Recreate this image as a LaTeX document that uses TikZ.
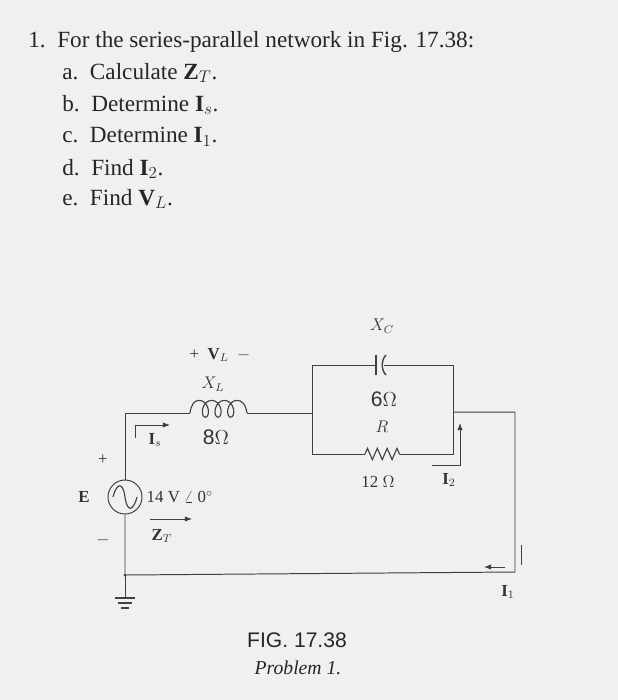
\documentclass[tikz,border=0pt]{standalone}
\usepackage{fontspec}
\setmainfont{Liberation Serif}
\setsansfont{Liberation Sans}
\usetikzlibrary{arrows.meta,decorations.pathmorphing}
\begin{document}
\begin{tikzpicture}[x=0.025cm,y=-0.025cm,
  wire/.style={draw=black!75,line width=0.7pt},
  lbl/.style={font=\fontsize{12}{14}\selectfont,text=black!80,inner sep=1pt},
  qtext/.style={font=\fontsize{16.5}{20}\selectfont,anchor=west,text=black!85,inner sep=0pt},
  curarrow/.style={draw=black!75,line width=0.6pt,-{Latex[length=5pt]}}]
\fill[gray!12] (0,0) rectangle (618,700);
\useasboundingbox (0,0) rectangle (618,700);
% question text
\node[qtext] (q0) at (28,42) {1.\ \ For the series-parallel network in Fig. 17.38:};
\node[qtext] (qa) at (62,73) {a.\ \ Calculate $\mathbf{Z}_T$.};
\node[qtext] (qb) at (62,105) {b.\ \ Determine $\mathbf{I}_s$.};
\node[qtext] (qc) at (62,137) {c.\ \ Determine $\mathbf{I}_1$.};
\node[qtext] (qd) at (62,169) {d.\ \ Find $\mathbf{I}_2$.};
\node[qtext] (qe) at (62,199) {e.\ \ Find $\mathbf{V}_L$.};
% coordinates
\coordinate (tl) at (125,413);
\coordinate (lA) at (190,413);
\coordinate (lB) at (247,413);
\coordinate (bl) at (312,413);
\coordinate (btl) at (312,365);
\coordinate (bbl) at (312,454);
\coordinate (btr) at (453,365);
\coordinate (bbr) at (453,454);
\coordinate (br) at (453,412);
\coordinate (rt) at (515,412);
\coordinate (rb) at (515,572);
\coordinate (gnd) at (125,575);
\coordinate (cA) at (376,365);
\coordinate (cB) at (384,365);
\coordinate (rA) at (365,454);
\coordinate (rB) at (400,454);
% source
\node[circle,draw=black!75,line width=0.7pt,minimum size=0.85cm,inner sep=0pt] (src) at (125,497) {};
\draw[black!75,line width=0.8pt] (113,497) .. controls (117,482) and (123,482) .. (125,497) .. controls (127,512) and (133,512) .. (137,497);
% wires
\path[wire] (src.north) -- (tl) -- (lA);
\draw[black!75,line width=0.8pt,decorate,decoration={coil,aspect=0.7,segment length=9pt,amplitude=6pt,raise=3pt}] (lA) -- (lB);
\path[wire] (lB) -- (bl);
\path[wire] (bbl) -- (btl) -- (cA);
\path[wire] (cB) -- (btr) -- (bbr) -- (rB);
\path[wire] (rA) -- (bbl);
\draw[black!75,line width=0.8pt,decorate,decoration={zigzag,segment length=7pt,amplitude=4pt}] (rA) -- (rB);
\draw[black!75,line width=1pt] (376,355) -- (376,375);
\draw[black!75,line width=1pt] (386,355) .. controls (381,360) and (381,370) .. (386,375);
\path[wire] (br) -- (rt) -- (rb) -- (gnd) -- (src.south);
\path[wire] (gnd) -- (125,598);
\draw[black!75,line width=1pt] (115,598) -- (135,598) (118,603) -- (132,603) (121,608) -- (129,608);
\fill[black!75] (gnd) circle (1.5);
% labels
\node[lbl] (vl) at (220,355) {+ \ $\mathbf{V}_L$ \ $-$};
\node[lbl] (xl) at (213,384) {$X_L$};
\node[lbl,font=\fontsize{15}{18}\sffamily] (l8) at (216,437) {8$\Omega$};
\draw[draw=black!75,line width=0.6pt,-{Latex[length=5pt]}] (135,438) -- (135,425) -- (170,425);
\node[lbl] (is) at (155,440) {$\mathbf{I}_s$};
\node[lbl] (pl) at (103,460) {+};
\node[lbl] (mi) at (103,540) {$-$};
\node[lbl] (e) at (84,497) {$\mathbf{E}$};
\node[lbl,anchor=west] (ev) at (145,497) {14 V $\angle$ 0$^\circ$};
\draw[curarrow] (150,519) -- (192,519);
\node[lbl] (zt) at (162,536) {$\mathbf{Z}_T$};
\node[lbl] (xc) at (382,326) {$X_C$};
\node[lbl,font=\fontsize{15}{18}\sffamily] (c6) at (384,399) {6$\Omega$};
\node[lbl] (rl) at (382,427) {$R$};
\node[lbl] (r12) at (378,482) {12 $\Omega$};
\draw[curarrow] (432,465) -- (460,465) -- (460,423);
\node[lbl] (i2) at (449,480) {$\mathbf{I}_2$};
\draw[draw=black!75,line width=0.6pt] (521,545) -- (521,565);
\draw[curarrow] (505,567) -- (484,567);
\node[lbl] (i1) at (508,592) {$\mathbf{I}_1$};
\node[font=\fontsize{15}{18}\sffamily,text=black!85] (fig) at (297,640) {FIG. 17.38};
\node[font=\fontsize{14}{17}\selectfont\itshape,text=black!85] (prob) at (298,668) {Problem 1.};
\end{tikzpicture}
\end{document}
